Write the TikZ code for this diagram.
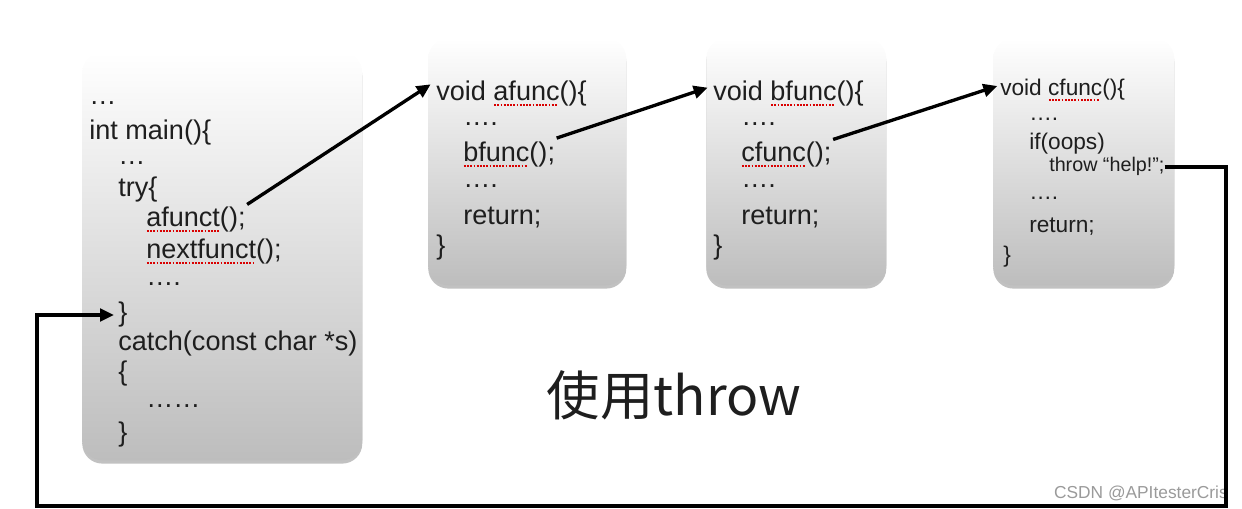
\documentclass[tikz,border=0pt]{standalone}
\usepackage{fontspec}
\setmainfont{Liberation Sans}
\newfontfamily\cjkfont{Noto Sans CJK SC}
\usetikzlibrary{arrows.meta,shadows,calc}
\definecolor{ink}{HTML}{1E1E1E}
\definecolor{boxbot}{HTML}{BDBDBD}
\definecolor{wm}{HTML}{9A9A9A}
\newcommand\squig[1]{\setbox0\hbox{#1}\rlap{\raisebox{-3.8pt}{\color{red!85!black}\leaders\hbox to 2.4pt{\hss\rule{1.4pt}{1.3pt}\hss}\hskip\wd0}}\box0}
\tikzset{
  card/.style={rounded corners=15pt, top color=white, bottom color=boxbot, draw=none,
    drop shadow={shadow xshift=0pt, shadow yshift=-2.5pt, opacity=0.35, fill=black!70},
    anchor=north west, inner sep=0pt},
  code/.style={anchor=base west, inner sep=0pt, text=ink, font=\fontsize{20.3}{22}\selectfont},
  ccode/.style={code, font=\fontsize{17}{20}\selectfont},
  tcode/.style={code, font=\fontsize{14.8}{16}\selectfont},
  flow/.style={draw=black, line width=2.5pt, -{Triangle[length=10.5pt,width=9.5pt]}},
}
\begin{document}
\begin{tikzpicture}[x=0.75pt,y=-0.75pt]
\useasboundingbox (0,0) rectangle (1242,509);
% boxes
\node[card, minimum width=210pt, minimum height=306pt] (mainbox) at (82,52) {};
\node[card, minimum width=148.5pt, minimum height=185.25pt] (abox) at (428,38) {};
\node[card, minimum width=135pt, minimum height=185.25pt] (bbox) at (706,38) {};
\node[card, minimum width=135.75pt, minimum height=185.25pt] (cbox) at (993,38) {};
% main
\node[code] (m1) at (89,105) {…};
\node[code] (m2) at (89,140) {int main()\{};
\node[code] (m3) at (118,165) {…};
\node[code] (m4) at (118,197) {try\{};
\node[code] (afunct) at (146,227) {\squig{afunct}();};
\node[code] (m6) at (146,259) {\squig{nextfunct}();};
\node[code] (m7) at (146,286) {….};
\node[code] (tryclose) at (118,322) {\}};
\node[code] (m9) at (118,351) {catch(const char *s)};
\node[code] (m10) at (118,381) {\{};
\node[code] (m11) at (146,407) {……};
\node[code] (m12) at (118,441) {\}};
% afunc
\node[code] (voida) at (436,101) {void \squig{afunc}()\{};
\node[code] (a2) at (463,126) {….};
\node[code] (bcall) at (463,162) {\squig{bfunc}();};
\node[code] (a4) at (463,188) {….};
\node[code] (a5) at (463,225) {return;};
\node[code] (a6) at (436,255) {\}};
% bfunc
\node[code] (voidb) at (713,101) {void \squig{bfunc}()\{};
\node[code] (b2) at (741,126) {….};
\node[code] (ccall) at (741,162) {\squig{cfunc}();};
\node[code] (b4) at (741,188) {….};
\node[code] (b5) at (741,225) {return;};
\node[code] (b6) at (713,255) {\}};
% cfunc
\node[ccode] (voidc) at (1000,96) {void \squig{cfunc}()\{};
\node[ccode] (c2) at (1029,121) {….};
\node[ccode] (c3) at (1029,150) {if(oops)};
\node[tcode] (thr) at (1049,172) {throw “help!”;};
\node[ccode] (c5) at (1029,200) {….};
\node[ccode] (c6) at (1029,233) {return;};
\node[ccode] (c7) at (1003,263) {\}};
% title
\node[anchor=base, inner sep=0pt, text=ink, font=\cjkfont\fontsize{40}{44}\selectfont] (title) at (674,416) {使用throw};
% watermark
\node[anchor=base east, inner sep=0pt, text=wm, font=\fontsize{13}{15}\selectfont] (wmark) at (1228,498) {CSDN @APItesterCris};
% connectors
\draw[flow] ([xshift=1pt,yshift=2pt]afunct.north east) -- ([xshift=-4pt,yshift=12.5pt]voida.base west);
\draw[flow] ([xshift=1pt,yshift=3pt]bcall.north east) -- ([xshift=-4pt,yshift=10pt]voidb.base west);
\draw[flow] ([xshift=1pt,yshift=2pt]ccall.north east) -- ([xshift=-2pt,yshift=7.5pt]voidc.base west);
\coordinate (rb) at (1226,506);
\coordinate (lb) at (37,506);
\draw[flow, shorten >=3pt] (thr.east) -- (thr.east -| rb) -- (rb) -- (lb) -- (lb |- tryclose.west) -- (tryclose.west);
\end{tikzpicture}
\end{document}
